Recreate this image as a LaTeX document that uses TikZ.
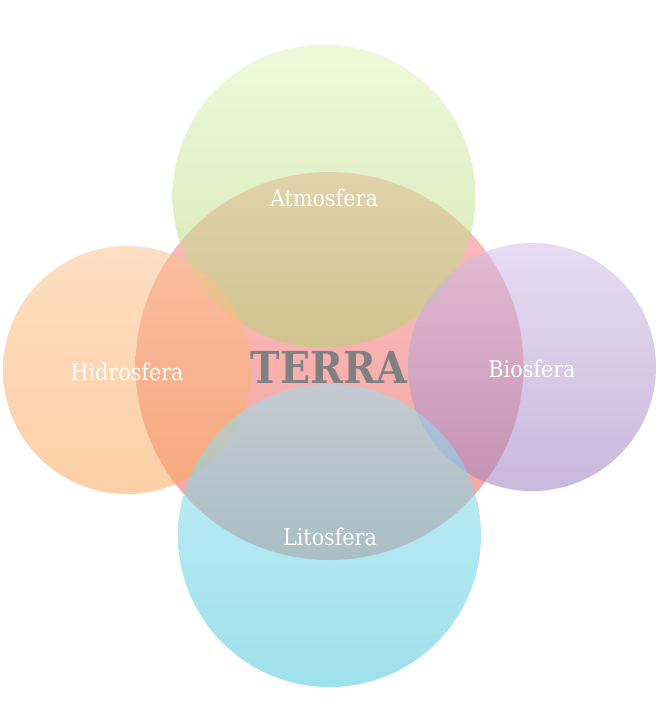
\documentclass[tikz,border=0pt]{standalone}
\usepackage{fontspec}
\setmainfont{DejaVu Serif Condensed}
\begin{document}
\begin{tikzpicture}[x=1pt,y=-1pt,
  sphere/.style={circle, inner sep=0pt, draw=none, fill opacity=0.55},
  lbl/.style={text=white, font=\fontsize{23}{25}\selectfont, inner sep=0pt},
  ttl/.style={text=terragray, font=\fontsize{44}{46}\selectfont\bfseries, inner sep=0pt}]
\definecolor{terragray}{RGB}{128,128,128}
\definecolor{pinkT}{RGB}{249,188,188}
\definecolor{pinkB}{RGB}{243,166,162}
\definecolor{greenT}{RGB}{224,244,188}
\definecolor{greenB}{RGB}{179,210,117}
\definecolor{orangeT}{RGB}{251,195,144}
\definecolor{orangeB}{RGB}{251,168,93}
\definecolor{purpleT}{RGB}{211,191,233}
\definecolor{purpleB}{RGB}{157,126,190}
\definecolor{cyanT}{RGB}{155,225,239}
\definecolor{cyanB}{RGB}{77,199,219}
\useasboundingbox (0,0) rectangle (664,724);
\node[circle, inner sep=0pt, minimum size=388pt, top color=pinkT, bottom color=pinkB] (terra) at (329.5,366) {};
\node[sphere, minimum size=303pt, top color=greenT, bottom color=greenB] (atmo) at (324,196) {};
\node[sphere, minimum size=248pt, top color=orangeT, bottom color=orangeB] (hidro) at (127,370) {};
\node[sphere, minimum size=248pt, top color=purpleT, bottom color=purpleB] (bio) at (532,367) {};
\node[sphere, minimum size=303pt, top color=cyanT, bottom color=cyanB] (lito) at (329.5,535.5) {};
\node[ttl] (terraL) at (329,367) {TERRA};
\node[lbl] (atmoL) at (324,198) {Atmosfera};
\node[lbl] (hidroL) at (127,372) {Hidrosfera};
\node[lbl] (bioL) at (532,369) {Biosfera};
\node[lbl] (litoL) at (330,537) {Litosfera};
\end{tikzpicture}
\end{document}
